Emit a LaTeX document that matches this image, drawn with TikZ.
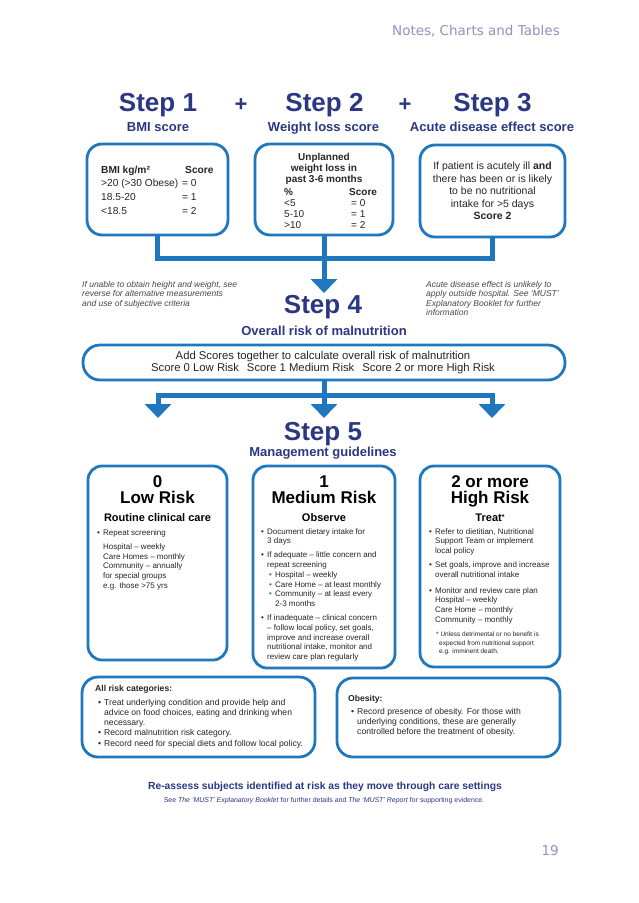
\documentclass[tikz,border=0pt]{standalone}
\usepackage{fontspec}
\setmainfont{Liberation Sans}
\newfontfamily\hdrfont{DejaVu Sans}
\usetikzlibrary{arrows.meta}
\definecolor{navy}{HTML}{2B3784}
\definecolor{boxblue}{HTML}{1F78BE}
\definecolor{txt}{HTML}{262626}
\definecolor{hdrc}{HTML}{8C95BC}
\newcommand{\myfs}[2]{\fontsize{#1}{#2}\selectfont}
\newcommand{\mylines}[1]{\begin{tabular}[t]{@{}l@{}}#1\end{tabular}}
\newcommand{\myclines}[1]{\begin{tabular}[t]{@{}c@{}}#1\end{tabular}}
\newcommand{\mybul}[1]{\begin{tabular}[t]{@{}l@{}l@{}}#1\end{tabular}}
\newcommand{\mybu}{\makebox[6pt][l]{\textbullet}}
\newcommand{\mysub}{\hspace{2pt}\makebox[6pt][l]{\textcolor{boxblue}{\textbullet}}}
\begin{document}
\begin{tikzpicture}[x=1pt,y=-1pt,
 box/.style={draw=boxblue,line width=2.8pt,rounded corners=15pt,rectangle,inner sep=0pt},
 conn/.style={draw=boxblue,line width=5pt},
 arr/.style={conn,-{Triangle[width=26pt,length=14pt]}},
 steptitle/.style={text=navy,font=\bfseries\myfs{26}{30},inner sep=0pt,anchor=base},
 plus/.style={text=navy,font=\bfseries\myfs{22}{24},inner sep=0pt,anchor=base},
 stepsub/.style={text=navy,font=\bfseries\myfs{13}{15},inner sep=0pt,anchor=base},
 toptext/.style={text=txt,font=\myfs{10.2}{13.8},inner sep=0pt},
 note/.style={text=txt!85,font=\itshape\myfs{8.5}{9.5},inner sep=0pt,anchor=base west},
 riskhead/.style={text=black,font=\bfseries\myfs{17}{20},inner sep=0pt,anchor=base},
 risksub/.style={text=black,font=\bfseries\myfs{11}{13},inner sep=0pt,anchor=base},
 body/.style={text=txt,font=\myfs{8}{9.8},inner sep=0pt,anchor=base west},
 hdr/.style={text=hdrc,font=\hdrfont\myfs{13.5}{16},inner sep=0pt,anchor=base east},
]
\useasboundingbox (0,0) rectangle (638,903);
\fill[white] (0,0) rectangle (638,903);

% page header / number
\node[hdr] (hdr) at (560,35) {Notes, Charts and Tables};
\node[hdr] (pgno) at (559,855) {19};

% step titles
\node[steptitle] (st1) at (158,111.7) {Step 1};
\node[plus] (pl1) at (241,111.5) {+};
\node[steptitle] (st2) at (324.5,111.7) {Step 2};
\node[plus] (pl2) at (405,111.5) {+};
\node[steptitle] (st3) at (492.5,111.7) {Step 3};
\node[stepsub] (ss1) at (158,131.5) {BMI score};
\node[stepsub] (ss2) at (323.5,131.5) {Weight loss score};
\node[stepsub] (ss3) at (492,131.5) {Acute disease effect score};

% top boxes
\node[box,minimum width=141pt,minimum height=91pt] (b1) at (157.5,189.5) {};
\node[box,minimum width=138pt,minimum height=91pt] (b2) at (324,189.5) {};
\node[box,minimum width=145pt,minimum height=92pt] (b3) at (492.5,191) {};

\node[toptext,anchor=base west] (b1l) at (101,173) {\mylines{\textbf{BMI kg/m²}\\ >20 (>30 Obese)\\ 18.5-20\\ <18.5}};
\node[toptext,anchor=base west] (b1r) at (182,173) {\mylines{\hspace{3pt}\textbf{Score}\\ = 0\\ = 1\\ = 2}};

\node[toptext,font=\bfseries\myfs{10}{11},anchor=base] (b2t) at (324,160.6) {\myclines{Unplanned\\ weight loss in\\ past 3-6 months}};
\node[toptext,font=\myfs{10}{11},anchor=base west] (b2l) at (284,195.5) {\mylines{\textbf{\%}\\ <5\\ 5-10\\ >10}};
\node[toptext,font=\myfs{10}{11},anchor=base west] (b2r) at (349,195.5) {\mylines{\textbf{Score}\\ \hspace{2pt}= 0\\ \hspace{2pt}= 1\\ \hspace{2pt}= 2}};

\node[toptext,font=\myfs{10.5}{12.5},anchor=base] (b3t) at (492.5,169.6) {\myclines{If patient is acutely ill \textbf{and}\\ there has been or is likely\\ to be no nutritional\\ intake for >5 days\\ \textbf{Score 2}}};

% connectors to step 4
\coordinate (j1) at (324,258);
\coordinate (t4) at (324,293);
\draw[conn] (b1.south) |- (j1);
\draw[conn] (b3.south) |- (j1);
\draw[arr] (b2.south) -- (t4);

% notes
\node[note] (nl) at (82,287) {\mylines{If unable to obtain height and weight, see\\ reverse for alternative measurements\\ and use of subjective criteria}};
\node[note] (nr) at (426,287) {\mylines{Acute disease effect is unlikely to\\ apply outside hospital. See ‘MUST’\\ Explanatory Booklet for further\\ information}};

% step 4
\node[steptitle] (st4) at (323,313) {Step 4};
\node[stepsub] (ss4) at (324,335.5) {Overall risk of malnutrition};
\node[box,rounded corners=17pt,minimum width=482pt,minimum height=35pt] (s4box) at (324,362.5) {};
\node[toptext,font=\myfs{11.3}{12},anchor=base] (s4t) at (323,359.8) {\myclines{Add Scores together to calculate overall risk of malnutrition\\ Score 0 Low Risk\hspace{8pt}Score 1 Medium Risk\hspace{8pt}Score 2 or more High Risk}};

% connectors to step 5
\coordinate (j2) at (324,395);
\coordinate (a5l) at (158,418);
\coordinate (a5m) at (324,418);
\coordinate (a5r) at (492,418);
\draw[arr] (s4box.south) -- (a5m);
\draw[arr] (j2) -| (a5l);
\draw[arr] (j2) -| (a5r);

% step 5
\node[steptitle] (st5) at (323,440.5) {Step 5};
\node[stepsub] (ss5) at (323,456.5) {Management guidelines};

\node[box,rounded corners=14pt,minimum width=139pt,minimum height=194pt] (low) at (157.5,563) {};
\node[box,rounded corners=14pt,minimum width=142pt,minimum height=202pt] (med) at (324,567) {};
\node[box,rounded corners=14pt,minimum width=140pt,minimum height=201pt] (high) at (490,566.5) {};

% low risk
\node[riskhead] (l0) at (157.5,487) {0};
\node[riskhead] (l1) at (157.5,503) {Low Risk};
\node[risksub] (l2) at (157.5,521) {Routine clinical care};
\node[body] (lb) at (97,535) {\mybul{\mybu & Repeat screening\\[4.5pt] & Hospital – weekly\\ & Care Homes – monthly\\ & Community – annually\\ & for special groups\\ & e.g. those >75 yrs}};

% medium risk
\node[riskhead] (m0) at (324,487) {1};
\node[riskhead] (m1) at (324,503) {Medium Risk};
\node[risksub] (m2) at (324,521) {Observe};
\node[body] (mb) at (261,534) {\mybul{%
\mybu & Document dietary intake for\\
 & 3 days\\[4pt]
\mybu & If adequate – little concern and\\
 & repeat screening\\
 & \mysub Hospital – weekly\\
 & \mysub Care Home – at least monthly\\
 & \mysub Community – at least every\\
 & \hspace{8pt}2-3 months\\[4pt]
\mybu & If inadequate – clinical concern\\
 & – follow local policy, set goals,\\
 & improve and increase overall\\
 & nutritional intake, monitor and\\
 & review care plan regularly}};

% high risk
\node[riskhead] (h0) at (490,487) {2 or more};
\node[riskhead] (h1) at (490,503) {High Risk};
\node[risksub] (h2) at (490,521) {Treat\raisebox{1.5pt}{\myfs{7}{8}*}};
\node[body] (hb) at (429,534) {\mybul{%
\mybu & Refer to dietitian, Nutritional\\
 & Support Team or implement\\
 & local policy\\[4pt]
\mybu & Set goals, improve and increase\\
 & overall nutritional intake\\[6pt]
\mybu & Monitor and review care plan\\
 & Hospital – weekly\\
 & Care Home – monthly\\
 & Community – monthly}};
\node[body,font=\myfs{6.5}{8.6}] (hn) at (436,636.5) {\mylines{* Unless detrimental or no benefit is\\ \hspace{3pt}expected from nutritional support\\ \hspace{3pt}e.g. imminent death.}};

% bottom boxes
\node[box,rounded corners=16pt,minimum width=233pt,minimum height=80pt] (allr) at (198.5,717) {};
\node[box,rounded corners=16pt,minimum width=223pt,minimum height=79pt] (obes) at (448.5,717.5) {};
\node[body,font=\bfseries\myfs{8.6}{10}] (ah) at (95,691) {All risk categories:};
\node[body,font=\myfs{8.6}{10.3}] (ab) at (98,705) {\mybul{%
\mybu & Treat underlying condition and provide help and\\
 & advice on food choices, eating and drinking when\\
 & necessary.\\
\mybu & Record malnutrition risk category.\\
\mybu & Record need for special diets and follow local policy.}};
\node[body,font=\bfseries\myfs{8.6}{10}] (oh) at (348,701) {Obesity:};
\node[body,font=\myfs{8.6}{10.4}] (ob) at (351,714) {\mybul{%
\mybu & Record presence of obesity. For those with\\
 & underlying conditions, these are generally\\
 & controlled before the treatment of obesity.}};

% footer
\node[text=navy,font=\bfseries\myfs{10.3}{12},inner sep=0pt,anchor=base] (f1) at (325,789.5) {Re-assess subjects identified at risk as they move through care settings};
\node[text=navy,font=\myfs{6.95}{8},inner sep=0pt,anchor=base] (f2) at (324,802.5) {See \textit{The ‘MUST’ Explanatory Booklet} for further details and \textit{The ‘MUST’ Report} for supporting evidence.};
\end{tikzpicture}
\end{document}
